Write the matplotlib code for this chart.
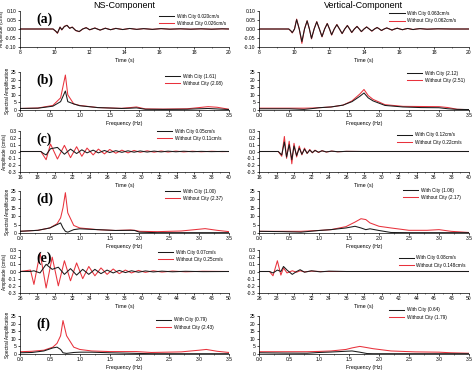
import matplotlib
matplotlib.use("Agg")
import matplotlib.pyplot as plt
from matplotlib.ticker import MultipleLocator

BLACK = "#1a1a1a"
RED = "#e8323c"

# ---- (a) time histories, 8-20 s ----
a_ns_t = [8, 9.9, 10.05, 10.15, 10.3, 10.4, 10.55, 10.7, 10.85, 11.0, 11.2, 11.4, 11.6, 11.8, 12.0, 12.3, 12.6, 12.9, 13.2, 13.5, 13.9, 14.3, 14.7, 15.1, 15.6, 16.1, 16.6, 17.2, 17.8, 18.4, 19.0, 19.6, 20]
a_ns_with = [0, 0, -0.012, -0.022, 0.01, -0.004, 0.014, 0.02, 0.004, 0.01, -0.008, -0.014, 0.0, 0.007, -0.004, 0.005, -0.006, 0.004, -0.004, 0.003, -0.003, 0.003, -0.002, 0.002, -0.002, 0.002, -0.001, 0.001, -0.001, 0.001, -0.001, 0.001, 0]
a_ns_without = [0, 0, -0.013, -0.024, 0.011, -0.005, 0.015, 0.021, 0.004, 0.011, -0.009, -0.015, 0.0, 0.008, -0.005, 0.006, -0.006, 0.005, -0.004, 0.004, -0.003, 0.003, -0.002, 0.002, -0.002, 0.002, -0.001, 0.001, -0.001, 0.001, -0.001, 0.001, 0]
a_v_t = [8, 9.7, 9.82, 9.9, 10.03, 10.15, 10.3, 10.45, 10.6, 10.75, 10.88, 11.0, 11.15, 11.3, 11.45, 11.6, 11.75, 11.9,
         12.03, 12.15, 12.3, 12.45, 12.6, 12.75, 12.9, 13.05, 13.18, 13.3, 13.45, 13.6, 13.73, 13.85,
         14.0, 14.15, 14.3, 14.45, 14.6, 14.75, 14.88, 15.0, 15.15, 15.3, 15.45, 15.6, 15.75, 15.9,
         16.05, 16.2, 16.35, 16.5, 16.65, 16.8, 17.0, 17.2, 17.6, 18.2, 19.0, 20]
a_v_with = [0, 0, -0.01, -0.02, 0, 0.052, 0, -0.07, 0, 0.045, 0, -0.052, 0, 0.04, 0, -0.042, 0, 0.03,
            0, -0.032, 0, 0.024, 0, -0.025, 0, 0.019, 0, -0.019, 0, 0.014, 0, -0.014,
            0, 0.011, 0, -0.011, 0, 0.008, 0, -0.008, 0, 0.006, 0, -0.006, 0, 0.004,
            0, -0.004, 0, 0.003, 0, -0.003, 0, 0.002, -0.001, 0.001, 0, 0]
a_v_without = [0, 0, -0.011, -0.022, 0, 0.055, 0, -0.08, 0, 0.046, 0, -0.055, 0, 0.041, 0, -0.044, 0, 0.031,
               0, -0.034, 0, 0.025, 0, -0.026, 0, 0.02, 0, -0.02, 0, 0.015, 0, -0.015,
               0, 0.012, 0, -0.012, 0, 0.009, 0, -0.009, 0, 0.006, 0, -0.006, 0, 0.005,
               0, -0.004, 0, 0.003, 0, -0.003, 0, 0.002, -0.001, 0.001, 0, 0]

# ---- (b) spectral amplification ----
b_ns_f = [0.0, 0.3, 0.55, 0.68, 0.76, 0.8, 0.9, 1.0, 1.3, 1.7, 1.85, 1.95, 2.1, 2.4, 2.8, 3.0, 3.15, 3.3, 3.5]
b_ns_with = [1.0, 1.2, 2.5, 5.5, 12.5, 5.5, 4.0, 2.8, 1.6, 1.0, 1.2, 1.4, 0.5, 0.4, 0.5, 0.8, 1.0, 0.7, 0.3]
b_ns_without = [1.0, 1.3, 3.0, 8.0, 23.0, 10.0, 4.0, 3.0, 1.6, 1.1, 1.6, 2.0, 0.7, 0.6, 0.8, 1.6, 2.2, 1.8, 0.5]
b_v_f = [0.0, 0.5, 0.75, 0.9, 1.0, 1.2, 1.4, 1.55, 1.68, 1.75, 1.82, 1.9, 2.1, 2.4, 2.7, 3.0, 3.15, 3.3, 3.5]
b_v_with = [0.8, 0.8, 0.4, 1.0, 1.5, 2.0, 3.2, 5.5, 9.0, 11.2, 8.0, 6.0, 3.0, 2.0, 1.6, 1.5, 0.8, 0.4, 0.3]
b_v_without = [1.2, 1.2, 1.2, 1.3, 1.5, 2.0, 3.2, 6.0, 10.5, 13.5, 9.5, 7.0, 3.5, 2.4, 2.3, 2.2, 1.6, 0.5, 0.2]

# ---- (c) time histories, 16-40 s ----
c_ns_t = [16, 18.4, 18.7, 19.0, 19.5, 20.3, 21.1, 21.8, 22.5, 23.1, 23.7, 24.4, 25.0, 25.7, 26.3, 27.0, 27.7, 28.4, 29.1, 29.8, 30.6, 31.4, 32.2, 33.0, 33.9, 34.8, 35.8, 36.8, 38.0, 39.2, 40]
c_ns_with = [0, 0, -0.03, -0.05, 0.04, 0.06, -0.04, 0.035, -0.03, 0.025, -0.02, 0.02, -0.02, 0.015, -0.015, 0.012, -0.012, 0.01, -0.01, 0.008, -0.008, 0.006, -0.006, 0.005, -0.004, 0.004, -0.003, 0.002, -0.002, 0.001, 0]
c_ns_without = [0, 0, -0.06, -0.12, 0.11, -0.11, 0.09, -0.09, 0.07, -0.07, 0.05, -0.05, 0.035, -0.035, 0.03, -0.025, 0.02, -0.02, 0.015, -0.012, 0.01, -0.01, 0.008, -0.008, 0.006, -0.006, 0.004, -0.004, 0.003, -0.002, 0]
c_v_t = [16, 18.2, 18.6, 18.9, 19.15, 19.45, 19.75, 20.0, 20.3, 20.6, 20.9, 21.2, 21.5, 21.8, 22.1, 22.4, 22.8, 23.2, 23.7, 24.3, 25.0, 26.0, 28.0, 40]
c_v_with = [0, 0, -0.05, 0.14, -0.08, 0.1, -0.12, 0.08, -0.06, 0.05, -0.04, 0.035, -0.025, 0.02, -0.015, 0.015, -0.01, 0.01, -0.006, 0.005, -0.003, 0.002, 0, 0]
c_v_without = [0, 0, -0.07, 0.22, -0.1, 0.15, -0.18, 0.12, -0.08, 0.08, -0.05, 0.05, -0.03, 0.03, -0.02, 0.02, -0.015, 0.012, -0.008, 0.006, -0.004, 0.002, 0, 0]

# ---- (d) spectral amplification ----
d_ns_f = [0.0, 0.3, 0.5, 0.62, 0.68, 0.72, 0.76, 0.8, 0.9, 1.0, 1.3, 1.6, 1.85, 1.92, 2.0, 2.3, 2.7, 3.1, 3.3, 3.5]
d_ns_with = [1.0, 1.6, 3.0, 5.0, 6.0, 3.0, 1.0, 0.5, 2.0, 2.5, 2.0, 1.5, 1.6, 1.5, 0.5, 0.2, 0.2, 0.2, 0.2, 0.2]
d_ns_without = [1.0, 1.6, 3.0, 5.5, 9.0, 15.0, 24.0, 12.0, 4.5, 3.0, 2.0, 1.5, 1.8, 1.6, 1.0, 0.8, 1.2, 2.6, 1.6, 0.8]
d_v_f = [0.0, 0.4, 0.7, 1.0, 1.2, 1.45, 1.6, 1.7, 1.78, 1.85, 2.0, 2.2, 2.5, 2.8, 3.0, 3.2, 3.5]
d_v_with = [1.0, 0.8, 0.5, 1.5, 2.0, 3.0, 4.0, 3.0, 2.0, 2.5, 1.5, 0.3, 0.2, 0.2, 0.2, 0.2, 0.2]
d_v_without = [1.0, 1.0, 1.0, 1.5, 2.0, 3.8, 6.5, 8.5, 8.0, 6.0, 4.0, 3.0, 1.6, 1.6, 2.0, 1.0, 0.3]

# ---- (e) time histories, 26-50 s ----
e_ns_t = [26, 27.2, 27.6, 28.3, 29.0, 29.7, 30.4, 31.1, 31.8, 32.5, 33.2, 33.9, 34.6, 35.3, 36.0, 36.7, 37.4, 38.1, 38.8, 39.6, 40.4, 41.3, 42.3, 43.5, 45.0, 47.0, 50]
e_ns_with = [0, 0, 0.01, -0.02, 0.1, 0.03, 0.06, -0.04, 0.04, -0.05, 0.03, -0.04, 0.03, -0.03, 0.02, -0.02, 0.015, -0.015, 0.01, -0.01, 0.008, -0.006, 0.005, -0.004, 0.003, -0.002, 0]
e_ns_without = [0, 0.02, -0.18, 0.26, -0.23, 0.2, -0.2, 0.15, -0.13, 0.12, -0.1, 0.07, -0.06, 0.05, -0.04, 0.035, -0.03, 0.02, -0.02, 0.015, -0.012, 0.01, -0.008, 0.006, -0.004, 0.003, 0]
e_v_t = [26, 27.2, 27.6, 28.1, 28.5, 28.8, 29.2, 29.8, 30.3, 30.7, 31.2, 32.0, 33.0, 34.0, 36.0, 50]
e_v_with = [0, 0, -0.02, 0.02, 0.0, 0.07, 0.02, -0.04, 0.0, 0.025, -0.01, 0.01, -0.005, 0.005, 0, 0]
e_v_without = [0, 0, -0.06, 0.15, -0.05, 0.05, -0.02, 0.01, -0.01, 0.01, -0.005, 0.005, 0, 0, 0, 0]

# ---- (f) spectral amplification ----
f_ns_f = [0.0, 0.2, 0.4, 0.55, 0.62, 0.68, 0.72, 0.78, 0.9, 1.0, 1.2, 1.5, 1.95, 2.2, 2.7, 3.0, 3.12, 3.3, 3.5]
f_ns_with = [0.8, 1.0, 2.0, 4.0, 4.5, 3.0, 0.8, 0.4, 1.0, 1.2, 1.2, 0.8, 0.4, 0.2, 0.2, 0.2, 0.2, 0.2, 0.2]
f_ns_without = [1.5, 1.8, 2.5, 4.5, 7.0, 12.0, 22.0, 12.0, 4.5, 3.0, 2.0, 1.6, 1.6, 1.0, 1.4, 2.5, 3.0, 1.8, 1.0]
f_v_f = [0.0, 0.4, 0.8, 1.0, 1.2, 1.45, 1.55, 1.68, 1.8, 1.9, 2.2, 2.6, 3.0, 3.2, 3.5]
f_v_with = [0.8, 0.6, 0.5, 1.0, 1.3, 1.8, 2.0, 1.2, 0.3, 0.2, 0.2, 0.2, 0.2, 0.2, 0.2]
f_v_without = [1.5, 1.5, 1.5, 1.7, 2.0, 3.0, 4.0, 5.0, 4.2, 3.5, 2.0, 1.4, 1.2, 0.8, 0.5]

legend_labels = {
    "a": [("With City 0.020cm/s", "Without City 0.026cm/s"), ("With City 0.063cm/s", "Without City 0.062cm/s")],
    "b": [("With City (1.61)", "Without City (2.08)"), ("With City (2.12)", "Without City (2.51)")],
    "c": [("With City 0.05cm/s", "Without City 0.11cm/s"), ("With City 0.12cm/s", "Without City 0.22cm/s")],
    "d": [("With City (1.00)", "Without City (2.37)"), ("With City (1.06)", "Without City (2.17)")],
    "e": [("With City 0.07cm/s", "Without City 0.25cm/s"), ("With City 0.08cm/s", "Without City 0.148cm/s")],
    "f": [("With City (0.79)", "Without City (2.43)"), ("With City (0.64)", "Without City (1.79)")],
}

rows = [
    ("a", "time", (8, 20), (-0.1, 0.1), 0.05,
     [(a_ns_t, a_ns_with, a_ns_without), (a_v_t, a_v_with, a_v_without)]),
    ("b", "freq", (0, 3.5), (0, 25), 5,
     [(b_ns_f, b_ns_with, b_ns_without), (b_v_f, b_v_with, b_v_without)]),
    ("c", "time", (16, 40), (-0.3, 0.3), 0.1,
     [(c_ns_t, c_ns_with, c_ns_without), (c_v_t, c_v_with, c_v_without)]),
    ("d", "freq", (0, 3.5), (0, 25), 5,
     [(d_ns_f, d_ns_with, d_ns_without), (d_v_f, d_v_with, d_v_without)]),
    ("e", "time", (26, 50), (-0.3, 0.3), 0.1,
     [(e_ns_t, e_ns_with, e_ns_without), (e_v_t, e_v_with, e_v_without)]),
    ("f", "freq", (0, 3.5), (0, 25), 5,
     [(f_ns_f, f_ns_with, f_ns_without), (f_v_f, f_v_with, f_v_without)]),
]

# axes boxes in pixels (top, bottom)
row_px = [(11, 47), (72, 110), (131, 172), (191, 233), (250, 293), (316, 354)]
col_px = [(20, 229), (259, 469)]
# legend anchors (upper right corner, axes fraction) per row: (left col, right col)
leg_pos = [((0.99, 0.95), (0.945, 1.03)),
           ((0.975, 0.98), (0.985, 1.06)),
           ((0.97, 1.08), (0.97, 0.99)),
           ((0.975, 1.08), (0.965, 1.1)),
           ((0.975, 1.03), (0.99, 0.9)),
           ((0.93, 0.99), (0.9, 1.25))]
W, H = 474, 372

plt.rcParams["font.family"] = ["Liberation Sans", "DejaVu Sans"]
fig = plt.figure(figsize=(4.74, 3.72), dpi=100)

for (key, kind, xlim, ylim, ystep, panels), (top, bot), lp in zip(rows, row_px, leg_pos):
    for ci, ((x, y_with, y_without), (left, right)) in enumerate(zip(panels, col_px)):
        ax = fig.add_axes([left / W, 1 - bot / H, (right - left) / W, (bot - top) / H])
        ax.plot(x, y_without, color=RED, lw=0.75, label=legend_labels[key][ci][1])
        ax.plot(x, y_with, color=BLACK, lw=0.75, label=legend_labels[key][ci][0])
        ax.set_xlim(*xlim)
        ax.set_ylim(*ylim)
        ax.yaxis.set_major_locator(MultipleLocator(ystep))
        if kind == "time":
            ax.xaxis.set_major_locator(MultipleLocator(2))
            ax.xaxis.set_minor_locator(MultipleLocator(1))
            ax.set_xlabel("Time (s)", fontsize=3.8, labelpad=1.5)
            if ci == 0:
                ax.set_ylabel("Amplitude (cm/s)", fontsize=3.4, labelpad=1)
            if key == "a":
                ax.yaxis.set_major_formatter(plt.FormatStrFormatter("%.2f"))
            else:
                ax.yaxis.set_major_formatter(plt.FormatStrFormatter("%.1f"))
        else:
            ax.xaxis.set_major_locator(MultipleLocator(0.5))
            ax.xaxis.set_minor_locator(MultipleLocator(0.25))
            ax.xaxis.set_major_formatter(plt.FormatStrFormatter("%.1f"))
            ax.set_xlabel("Frequency (Hz)", fontsize=3.8, labelpad=1.5)
            if ci == 0:
                ax.set_ylabel("Spectral Amplification", fontsize=3.4, labelpad=1)
        ax.tick_params(labelsize=3.6, length=1.5, width=0.5, pad=1)
        ax.tick_params(which="minor", length=1, width=0.4)
        for s in ("top", "right"):
            ax.spines[s].set_visible(False)
        for s in ("left", "bottom"):
            ax.spines[s].set_linewidth(0.5)
        h, l = ax.get_legend_handles_labels()
        ax.legend(h[::-1], l[::-1], loc="upper right", bbox_to_anchor=lp[ci],
                  fontsize=3.4, frameon=False, handlelength=3.2, handletextpad=0.6,
                  labelspacing=0.5, borderpad=0.2, borderaxespad=0)
        if ci == 0:
            ax.text(0.08, 0.97, "(%s)" % key, transform=ax.transAxes, fontsize=10,
                    fontweight="bold", family="Liberation Serif", va="top", ha="left")

fig.text(124.5 / W, 1 - 5 / H, "NS-Component", ha="center", va="center", fontsize=6.5)
fig.text(364 / W, 1 - 5 / H, "Vertical-Component", ha="center", va="center", fontsize=6.5)

fig.savefig("out.png", dpi=100)
